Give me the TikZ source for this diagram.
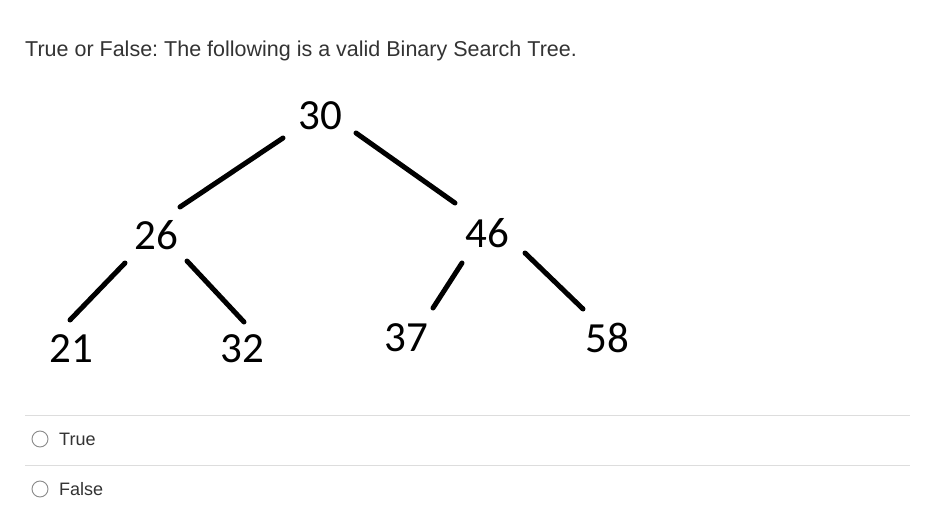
\documentclass[tikz,border=0pt]{standalone}
\usepackage{fontspec}
\setmainfont{Liberation Sans}
\newfontfamily\numfont{Carlito}
\usetikzlibrary{calc}
\definecolor{txtgray}{HTML}{333333}
\definecolor{rulegray}{HTML}{DDDDDD}
\definecolor{radiogray}{HTML}{8A8A8A}
\frenchspacing
\tikzset{
  num/.style={inner sep=0pt, font=\numfont\fontsize{43}{43}\selectfont, text=black},
  edge/.style={line width=5pt, line cap=round, black},
  qtext/.style={inner sep=0pt, anchor=base west, text=txtgray},
  sep/.style={line width=1pt, rulegray},
  radio/.style={circle, draw=radiogray, line width=0.9pt, minimum size=16pt, inner sep=0pt}
}
\begin{document}
\begin{tikzpicture}[x=1pt,y=-1pt]
\fill[white] (0,0) rectangle (932,527);
\useasboundingbox (0,0) rectangle (932,527);
\node[qtext, font=\fontsize{21.5}{21.5}\selectfont] (title) at (25,57) {True or False: The following is a valid Binary Search Tree.};
\node[num] (n30) at (320,116) {30};
\node[num] (n26) at (156,235) {26};
\node[num] (n46) at (487,233) {46};
\node[num] (n21) at (71,349) {21};
\node[num] (n32) at (242,349) {32};
\node[num] (n37) at (406,338) {37};
\node[num] (n58) at (607,338) {58};
\draw[edge] ($(n30)+(-37,22)$) -- ($(n26)+(24,-28)$);
\draw[edge] ($(n30)+(36,17)$) -- ($(n46)+(-32,-30)$);
\draw[edge] ($(n26)+(-31,28)$) -- ($(n21)+(-1,-29)$);
\draw[edge] ($(n26)+(31,26)$) -- ($(n32)+(2,-27)$);
\draw[edge] ($(n46)+(-25,30)$) -- ($(n37)+(27,-30)$);
\draw[edge] ($(n46)+(38,20)$) -- ($(n58)+(-24,-29)$);
\coordinate (s1a) at (25,415);
\coordinate (s1b) at (910,415);
\coordinate (s2a) at (25,465);
\coordinate (s2b) at (910,465);
\draw[sep] (s1a) -- (s1b);
\draw[sep] (s2a) -- (s2b);
\node[radio] (r1) at (40,439) {};
\node[radio] (r2) at (40,489) {};
\node[qtext, font=\fontsize{18}{18}\selectfont] (t1) at (59,445) {True};
\node[qtext, font=\fontsize{18}{18}\selectfont] (t2) at (59,495) {False};
\end{tikzpicture}
\end{document}
